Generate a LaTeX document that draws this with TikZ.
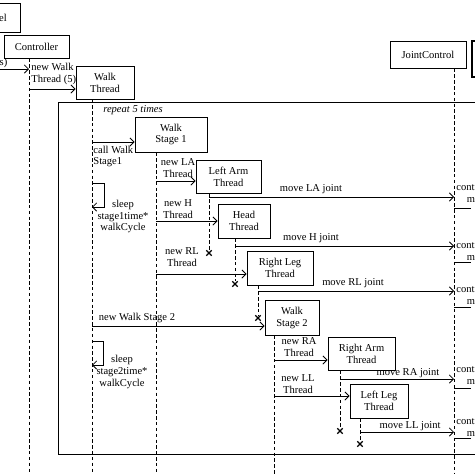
\documentclass[tikz,border=0pt]{standalone}
\usepackage{fontspec}
\setmainfont{Liberation Serif}
\usetikzlibrary{arrows.meta,shapes.misc}
\newdimen\unitpx \unitpx=0.03cm
\begin{document}
\begin{tikzpicture}[x=\unitpx, y=-\unitpx,
	every node/.style={font=\fontsize{9}{10.2}\selectfont, inner sep=1pt, align=center},
	obj/.style={draw, line width=0.8pt, inner sep=0pt},
	life/.style={dash pattern=on 3pt off 2pt, line width=0.7pt},
	msg/.style={-{Straight Barb[length=3.5pt,width=7pt]}, line width=0.7pt},
	kill/.style={cross out, draw, line width=1pt, minimum size=3.5pt, inner sep=0pt}]
		\useasboundingbox (0,0) rectangle (474,474);
		
		\node[obj, minimum width=54\unitpx, minimum height=29\unitpx] at (-7,17.5) (model) {Model};
		\node[obj, minimum width=65\unitpx, minimum height=23\unitpx] at (36.5,46.5) (ctl) {Controller};
		\node[obj, minimum width=58\unitpx, minimum height=33\unitpx] at (105,82.5) (wt) {Walk\\Thread};
		\node[obj, minimum width=72\unitpx, minimum height=35\unitpx] at (171,134.5) (ws1) {Walk\\Stage 1};
		\node[obj, minimum width=65\unitpx, minimum height=33\unitpx] at (228.5,176.5) (la) {Left Arm\\Thread};
		\node[obj, minimum width=52\unitpx, minimum height=34\unitpx] at (244,221) (hd) {Head\\Thread};
		\node[obj, minimum width=66\unitpx, minimum height=34\unitpx] at (280,268) (rl) {Right Leg\\Thread};
		\node[obj, minimum width=54\unitpx, minimum height=35\unitpx] at (292,317.5) (ws2) {Walk\\Stage 2};
		\node[obj, minimum width=67\unitpx, minimum height=33\unitpx] at (361.5,353.5) (ra) {Right Arm\\Thread};
		\node[obj, minimum width=58\unitpx, minimum height=34\unitpx] at (379,401) (ll) {Left Leg\\Thread};
		\node[obj, minimum width=76\unitpx, minimum height=27\unitpx] at (428,54.5) (jc) {JointControl};
		\node[obj, line width=1.6pt, minimum width=60\unitpx, minimum height=36\unitpx] at (502,59) (mot) {};
		
		% repeat frame
		\draw[line width=0.8pt] (58,102) rectangle (540,454);
		\node[font=\fontsize{9}{10.2}\selectfont\itshape] at (133,110) (rep) {repeat 5 times};
		
		% lifelines
		\coordinate (ctlL) at (29,480);
		\coordinate (wtL) at (92,480);
		\coordinate (ws1L) at (156,480);
		\coordinate (ws2L) at (274,480);
		\coordinate (jcL) at (454,480);
		\node[kill] at (209,253) (laX) {};
		\node[kill] at (235,284) (hdX) {};
		\node[kill] at (258,318) (rlX) {};
		\node[kill] at (340,431) (raX) {};
		\node[kill] at (360,444) (llX) {};
		\draw[life] (ctl.south -| ctlL) -- (ctlL);
		\draw[life] (wt.south -| wtL) -- (wtL);
		\draw[life] (ws1.south -| ws1L) -- (ws1L);
		\draw[life] (ws2.south -| ws2L) -- (ws2L);
		\draw[life] (jc.south -| jcL) -- (jcL);
		\draw[life] (la.south -| laX) -- (laX);
		\draw[life] (hd.south -| hdX) -- (hdX);
		\draw[life] (rl.south -| rlX) -- (rlX);
		\draw[life] (ra.south -| raX) -- (raX);
		\draw[life] (ll.south -| llX) -- (llX);
		
		% messages
		\coordinate (m0) at (-30,69);
		\draw[msg] (m0) -- (m0 -| ctlL);
		\node at (3.5,63) (m0t) {s)};
		
		\coordinate (m1) at (29,89);
		\draw[msg] (m1) -- (m1 -| wt.west);
		\node[anchor=west, align=left] at (30,74) (m1t) {new Walk\\Thread (5)};
		
		\coordinate (m2) at (92,142);
		\draw[msg] (m2) -- (m2 -| ws1.west);
		\node[anchor=west, align=left] at (92,156.5) (m2t) {call Walk\\Stage1};
		
		\coordinate (s1) at (92,183);
		\draw[msg] (s1) -- ++(12,0) -- ++(0,24) -- ++(-12,0);
		\node at (123,216.5) (s1t) {sleep\\stage1time*\\walkCycle};
		
		\coordinate (m3) at (156,181);
		\draw[msg] (m3) -- (m3 -| la.west);
		\node at (178,168.5) (m3t) {new LA\\Thread};
		
		\coordinate (m4) at (209,197);
		\draw[msg] (m4) -- (m4 -| jcL);
		\node at (311,189) (m4t) {move LA joint};
		\coordinate (c1) at (454,208);
		\draw[line width=0.7pt] (c1) -- (c1 -| mot.west);
		\node[anchor=west] at (455,192.5) (c1t) {controlling\\motor};
		
		\coordinate (m5) at (156,221);
		\draw[msg] (m5) -- (m5 -| hd.west);
		\node at (178,209) (m5t) {new H\\Thread};
		
		\coordinate (m6) at (235,246);
		\draw[msg] (m6) -- (m6 -| jcL);
		\node at (311,238) (m6t) {move H joint};
		\coordinate (c2) at (454,262);
		\draw[line width=0.7pt] (c2) -- (c2 -| mot.west);
		\node[anchor=west] at (455,250.5) (c2t) {controlling\\motor};
		
		\coordinate (m7) at (156,274);
		\draw[msg] (m7) -- (m7 -| rl.west);
		\node at (182,257) (m7t) {new RL\\Thread};
		
		\coordinate (m8) at (258,291);
		\draw[msg] (m8) -- (m8 -| jcL);
		\node at (353,283) (m8t) {move RL joint};
		\coordinate (c3) at (454,307);
		\draw[line width=0.7pt] (c3) -- (c3 -| mot.west);
		\node[anchor=west] at (455,295) (c3t) {controlling\\motor};
		
		\coordinate (m9) at (92,326);
		\draw[msg] (m9) -- (m9 -| ws2.west);
		\node at (137,318) (m9t) {new Walk Stage 2};
		
		\coordinate (s2) at (92,341);
		\draw[msg] (s2) -- ++(11,0) -- ++(0,24) -- ++(-11,0);
		\node at (122,372) (s2t) {sleep\\stage2time*\\walkCycle};
		
		\coordinate (m10) at (274,360);
		\draw[msg] (m10) -- (m10 -| ra.west);
		\node at (299,347) (m10t) {new RA\\Thread};
		
		\coordinate (m11) at (340,379);
		\draw[msg] (m11) -- (m11 -| jcL);
		\node at (408,373) (m11t) {move RA joint};
		\coordinate (c4) at (454,388);
		\draw[line width=0.7pt] (c4) -- (c4 -| mot.west);
		\node[anchor=west] at (455,375) (c4t) {controlling\\motor};
		
		\coordinate (m12) at (274,396);
		\draw[msg] (m12) -- (m12 -| ll.west);
		\node at (298,384) (m12t) {new LL\\Thread};
		
		\coordinate (m13) at (360,432);
		\draw[msg] (m13) -- (m13 -| jcL);
		\node at (410,426) (m13t) {move LL joint};
		\coordinate (c5) at (454,438);
		\draw[line width=0.7pt] (c5) -- (c5 -| mot.west);
		\node[anchor=west] at (455,426.5) (c5t) {controlling\\motor};
\end{tikzpicture}
\end{document}
